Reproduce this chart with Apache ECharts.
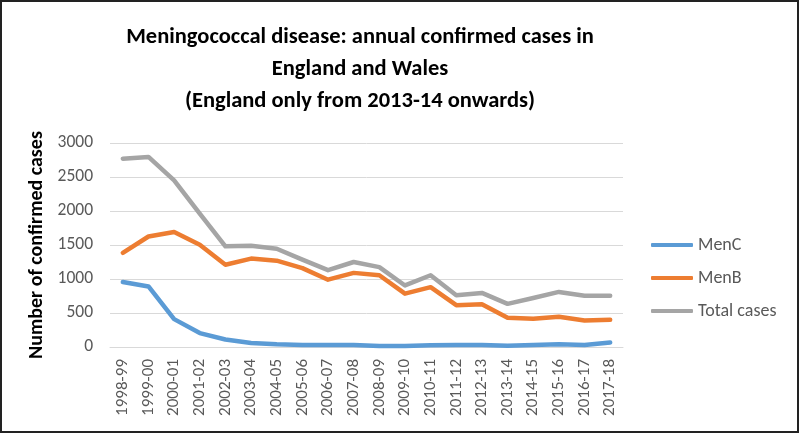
<!DOCTYPE html>
<html>
<head>
<meta charset="UTF-8">
<title>Meningococcal disease</title>
<script src="https://cdn.jsdelivr.net/npm/echarts@6/dist/echarts.min.js"></script>
<style>
	body { margin: 0; background: #fff; }
	#chart { width: 800px; height: 434px; }
</style>
</head>
<body>
<div id="chart"></div>
<script>
	var seasons = ["1998-99", "1999-00", "2000-01", "2001-02", "2002-03", "2003-04", "2004-05",
		"2005-06", "2006-07", "2007-08", "2008-09", "2009-10", "2010-11", "2011-12", "2012-13",
		"2013-14", "2014-15", "2015-16", "2016-17", "2017-18"];
	var menC = [955, 890, 410, 205, 110, 60, 40, 30, 30, 30, 15, 15, 25, 30, 30, 20, 30, 40, 30, 65];
	var menB = [1385, 1625, 1690, 1505, 1210, 1300, 1270, 1160, 990, 1090, 1055, 785, 880, 615, 630, 430, 415, 445, 390, 400];
	var totalCases = [2770, 2795, 2450, 1960, 1480, 1490, 1445, 1285, 1130, 1250, 1175, 905, 1055, 760, 795, 635, 720, 810, 755, 755];
	var yTicks = [0, 3000, 500];

	var font = "Carlito, 'Liberation Sans', Arial, sans-serif";
	var grey = "#595959";

	var chart = echarts.init(document.getElementById("chart"));

	function lineSeries(name, data, color) {
		return {
			name: name,
			type: "line",
			data: data,
			symbol: "none",
			lineStyle: { color: color, width: 4.5, cap: "round", join: "round" },
			itemStyle: { color: color }
		};
	}

	chart.setOption({
		animation: false,
		textStyle: { fontFamily: font },
		title: {
			text: "Meningococcal disease: annual confirmed cases in\nEngland and Wales\n(England only from 2013-14 onwards)",
			left: 355,
			textAlign: "center",
			top: 16,
			textStyle: { fontSize: 22.5, fontWeight: "bold", color: "#000", lineHeight: 32, fontFamily: font }
		},
		legend: {
			orient: "vertical",
			left: 646,
			top: 231,
			icon: "roundRect",
			itemWidth: 42,
			itemHeight: 4,
			itemGap: 15,
			textStyle: { fontSize: 18, color: grey, fontFamily: font },
			data: ["MenC", "MenB", "Total cases"]
		},
		grid: { left: 110, right: 177, top: 143, bottom: 87, containLabel: false },
		xAxis: {
			type: "category",
			data: seasons,
			boundaryGap: true,
			axisLine: { lineStyle: { color: "#d9d9d9", width: 1 } },
			axisTick: { show: false },
			axisLabel: { rotate: 90, color: grey, fontSize: 17, margin: 12, interval: 0, fontFamily: font }
		},
		yAxis: {
			type: "value",
			min: yTicks[0],
			max: yTicks[1],
			interval: yTicks[2],
			name: "Number of confirmed cases",
			nameLocation: "middle",
			nameGap: 59,
			nameTextStyle: { fontSize: 20, fontWeight: "bold", color: "#000", fontFamily: font },
			axisLine: { show: false },
			axisTick: { show: false },
			axisLabel: {
				color: grey, fontSize: 17.5, margin: 17, fontFamily: font,
				formatter: function (v) { return String(v); }
			},
			splitLine: { lineStyle: { color: "#d9d9d9", width: 1 } }
		},
		graphic: [{
			type: "rect",
			shape: { x: 1, y: 1, width: 797, height: 431 },
			style: { fill: "none", stroke: "#222", lineWidth: 2 },
			silent: true
		}],
		series: [
			lineSeries("MenC", menC, "#5b9bd5"),
			lineSeries("MenB", menB, "#ed7d31"),
			lineSeries("Total cases", totalCases, "#a5a5a5")
		]
	});
</script>
</body>
</html>
